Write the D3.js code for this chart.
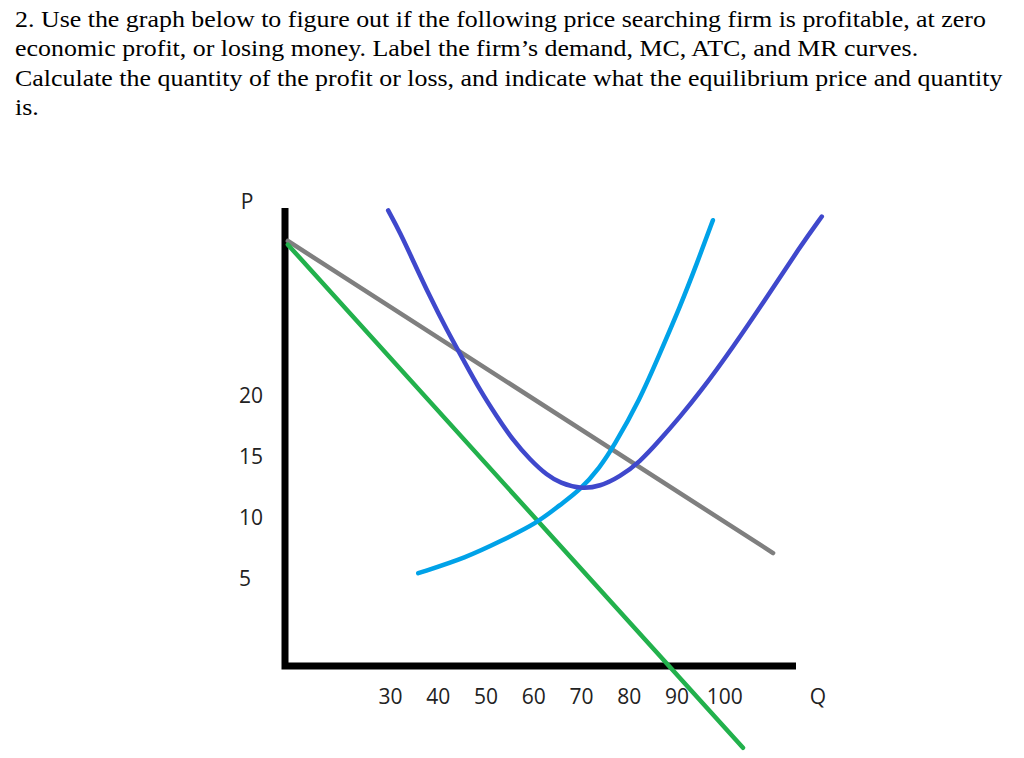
<!DOCTYPE html>
<html>
<head>
<meta charset="utf-8">
<script src="https://cdn.jsdelivr.net/npm/d3@7/dist/d3.min.js"></script>
<style>
  html, body { margin: 0; padding: 0; background: #fff; }
  svg { display: block; }
</style>
</head>
<body>
<script>
// ---------------- DATA ----------------
const questionLines = [
  "2. Use the graph below to figure out if the following price searching firm is profitable, at zero",
  "economic profit, or losing money. Label the firm\u2019s demand, MC, ATC, and MR curves.",
  "Calculate the quantity of the profit or loss, and indicate what the equilibrium price and quantity",
  "is."
];
const xTickLabels = [30, 40, 50, 60, 70, 80, 90, 100];
const yTickLabels = [20, 15, 10, 5];
const xAxisTitle = "Q";
const yAxisTitle = "P";

// Demand (gray) – straight line
const demandQ = [8.6, 110.2];
const demandP = [32.6, 7.05];
// MR (green) – straight line
const mrQ = [8.6, 103.9];
const mrP = [32.3, -8.9];
// MC (light blue)
const mcQ = [35.9, 46.1, 53.0, 60.8, 65.6, 69.8, 74.0, 76.7, 82.3, 86.5, 90.7, 94.3, 97.6];
const mcP = [5.4, 6.7, 8.0, 9.5, 11.0, 12.2, 14.1, 15.7, 19.6, 23.4, 27.2, 30.8, 34.3];
// ATC (dark blue)
const atcQ = [29.6, 32.1, 34.8, 38.4, 41.9, 45.3, 48.8, 52.4, 55.7, 59.3, 62.9, 65.6, 69.8, 74.0, 78.1, 82.3, 86.5, 90.7, 94.9, 101.8, 108.9, 115.8, 120.4];
const atcP = [35.1, 33.3, 31.0, 28.0, 25.3, 22.9, 20.4, 18.2, 16.3, 14.7, 13.4, 12.8, 12.3, 12.5, 13.3, 14.5, 16.3, 18.2, 20.2, 23.9, 28.0, 32.1, 34.6];

// ---------------- DRAW ----------------
const W = 1024, H = 758;
const svg = d3.select("body").append("svg").attr("width", W).attr("height", H);

// Question text (reference is horizontally stretched)
const q = svg.append("g").attr("transform", "translate(15,0) scale(1.142,1)")
  .append("text")
  .attr("font-family", "'Liberation Serif', 'Times New Roman', serif")
  .attr("font-size", 22.7)
  .attr("fill", "#000");
questionLines.forEach((t, i) => {
  q.append("tspan").attr("x", 0).attr("y", 27 + i * 29.3).text(t);
});

const x = d3.scaleLinear().domain([8, 115]).range([285, 796]);
const y = d3.scaleLinear().domain([-2.2, 35.3]).range([666, 208]);

const labelFont = "'Open Sans', sans-serif";
const labelSize = 21;
const labelColor = "#222";

// Axes (thick black L)
const axisPath = d3.path();
axisPath.moveTo(x(x.domain()[0]), y(y.domain()[1]));
axisPath.lineTo(x(x.domain()[0]), y(y.domain()[0]));
axisPath.lineTo(x(x.domain()[1]), y(y.domain()[0]));
svg.append("path").attr("d", axisPath.toString())
  .attr("fill", "none").attr("stroke", "#000").attr("stroke-width", 7)
  .attr("stroke-linejoin", "miter").attr("stroke-linecap", "butt");

// X tick labels via d3 axis (no ticks/domain)
const xAxis = d3.axisBottom(x).tickValues(xTickLabels).tickSize(0).tickPadding(0);
const gx = svg.append("g").attr("transform", `translate(0,${y(y.domain()[0])})`).call(xAxis);
gx.select(".domain").remove();
gx.selectAll("text")
  .attr("y", 31).attr("dy", "0.35em")
  .attr("font-family", labelFont).attr("font-size", labelSize).attr("fill", labelColor);

// Y tick labels
const yAxis = d3.axisLeft(y).tickValues(yTickLabels).tickSize(0).tickPadding(0);
const gy = svg.append("g").attr("transform", `translate(${x(x.domain()[0])},0)`).call(yAxis);
gy.select(".domain").remove();
gy.selectAll("text")
  .attr("x", -46).attr("dy", "0.35em").attr("text-anchor", "start")
  .attr("font-family", labelFont).attr("font-size", labelSize).attr("fill", labelColor);

// Axis titles
svg.append("text").attr("x", x(x.domain()[0]) - 38).attr("y", y(y.domain()[1]) - 6)
  .attr("dy", "0.35em").attr("text-anchor", "middle")
  .attr("font-family", labelFont).attr("font-size", labelSize).attr("fill", labelColor)
  .text(yAxisTitle);
svg.append("text").attr("x", x(x.domain()[1]) + 22).attr("y", y(y.domain()[0]) + 31)
  .attr("dy", "0.35em").attr("text-anchor", "middle")
  .attr("font-family", labelFont).attr("font-size", labelSize).attr("fill", labelColor)
  .text(xAxisTitle);

// Curves
const zip = (qs, ps) => qs.map((d, i) => [d, ps[i]]);
const straight = d3.line().x(d => x(d[0])).y(d => y(d[1]));
const smooth = d3.line().x(d => x(d[0])).y(d => y(d[1])).curve(d3.curveBasis);

const curves = [
  { pts: zip(demandQ, demandP), gen: straight, color: "#7f7f7f" },
  { pts: zip(mrQ, mrP), gen: straight, color: "#22b14c" },
  { pts: zip(mcQ, mcP), gen: smooth, color: "#00a2e8" },
  { pts: zip(atcQ, atcP), gen: smooth, color: "#3f48cc" }
];
svg.selectAll("path.curve").data(curves).enter().append("path")
  .attr("class", "curve")
  .attr("d", d => d.gen(d.pts))
  .attr("fill", "none")
  .attr("stroke", d => d.color)
  .attr("stroke-width", 4.5)
  .attr("stroke-linecap", "round")
  .attr("stroke-linejoin", "round");
</script>
</body>
</html>
